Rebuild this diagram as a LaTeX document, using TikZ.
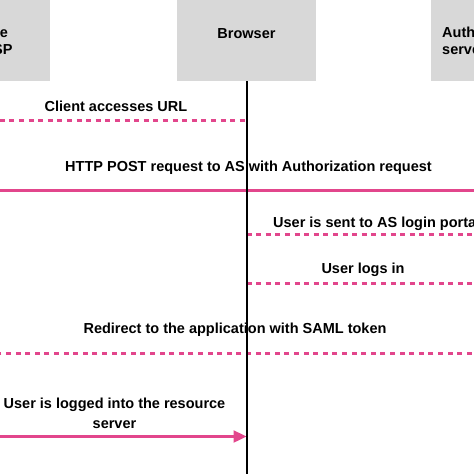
\documentclass[tikz,border=0pt]{standalone}
\usepackage{fontspec}
\setmainfont{Liberation Sans}
\usetikzlibrary{positioning, arrows.meta}
\definecolor{actor}{RGB}{216, 216, 216}
\definecolor{msg}{RGB}{226, 70, 140}

\begin{document}
\begin{tikzpicture}[
    x=1pt, y=-1pt,
    actor_style/.style={
        fill=actor,
        draw=none,
        minimum width=139pt,
        minimum height=97pt,
        inner sep=0pt,
        outer sep=0pt
    },
    name_style/.style={font=\fontsize{14.5}{17}\selectfont\bfseries, inner sep=0pt},
    label_style/.style={font=\fontsize{14.5}{19.5}\selectfont\bfseries, inner sep=0pt, anchor=base},
    life_style/.style={black, line width=2pt},
    solid_style/.style={msg, line width=2.4pt},
    dash_style/.style={msg, line width=2.8pt, dash pattern=on 5pt off 4.6pt},
    arrow_style/.style={solid_style, -{Triangle[length=13pt, width=12pt]}}
]

\useasboundingbox (0,0) rectangle (474,474);
\clip (0,0) rectangle (474,474);

\node[actor_style] (sp) at (-19.5,32.5) {};
\node[actor_style] (br) at (246.5,32.5) {};
\node[actor_style] (as) at (500.5,32.5) {};

\node[name_style, align=center, anchor=north] (sp_name) at (-25,27) {Resource\\server / SP};
\node[name_style, anchor=base] (br_name) at (246.5,38) {Browser};
\node[name_style, align=left, anchor=north west] (as_name) at (442,27) {Authorization\\server};

\coordinate (y1) at (0,120.5);
\coordinate (y2) at (0,190.5);
\coordinate (y3) at (0,234.5);
\coordinate (y4) at (0,283.5);
\coordinate (y5) at (0,353.5);
\coordinate (y6) at (0,436.5);

\node[label_style] (m1) at (116,111.7) {Client accesses URL};
\draw[dash_style] (sp |- y1) -- (br |- y1);

\node[label_style] (m2) at (248.5,171) {HTTP POST request to AS with Authorization request};
\draw[solid_style] (sp |- y2) -- (as |- y2);

\node[label_style, anchor=base west] (m3) at (273,227) {User is sent to AS login portal};
\draw[dash_style] (br |- y3) -- (as |- y3);

\node[label_style] (m4) at (363,273.5) {User logs in};
\draw[dash_style] (br |- y4) -- (as |- y4);

\node[label_style] (m5) at (235,333.5) {Redirect to the application with SAML token};
\draw[dash_style] (as |- y5) -- (sp |- y5);

\node[label_style, align=center, anchor=north] (m6) at (114.5,398) {User is logged into the resource\\server};
\draw[arrow_style] (sp |- y6) -- (br |- y6);

\foreach \p in {sp, br, as}
    \draw[life_style] (\p.south) -- ++(0,400);

\end{tikzpicture}
\end{document}
